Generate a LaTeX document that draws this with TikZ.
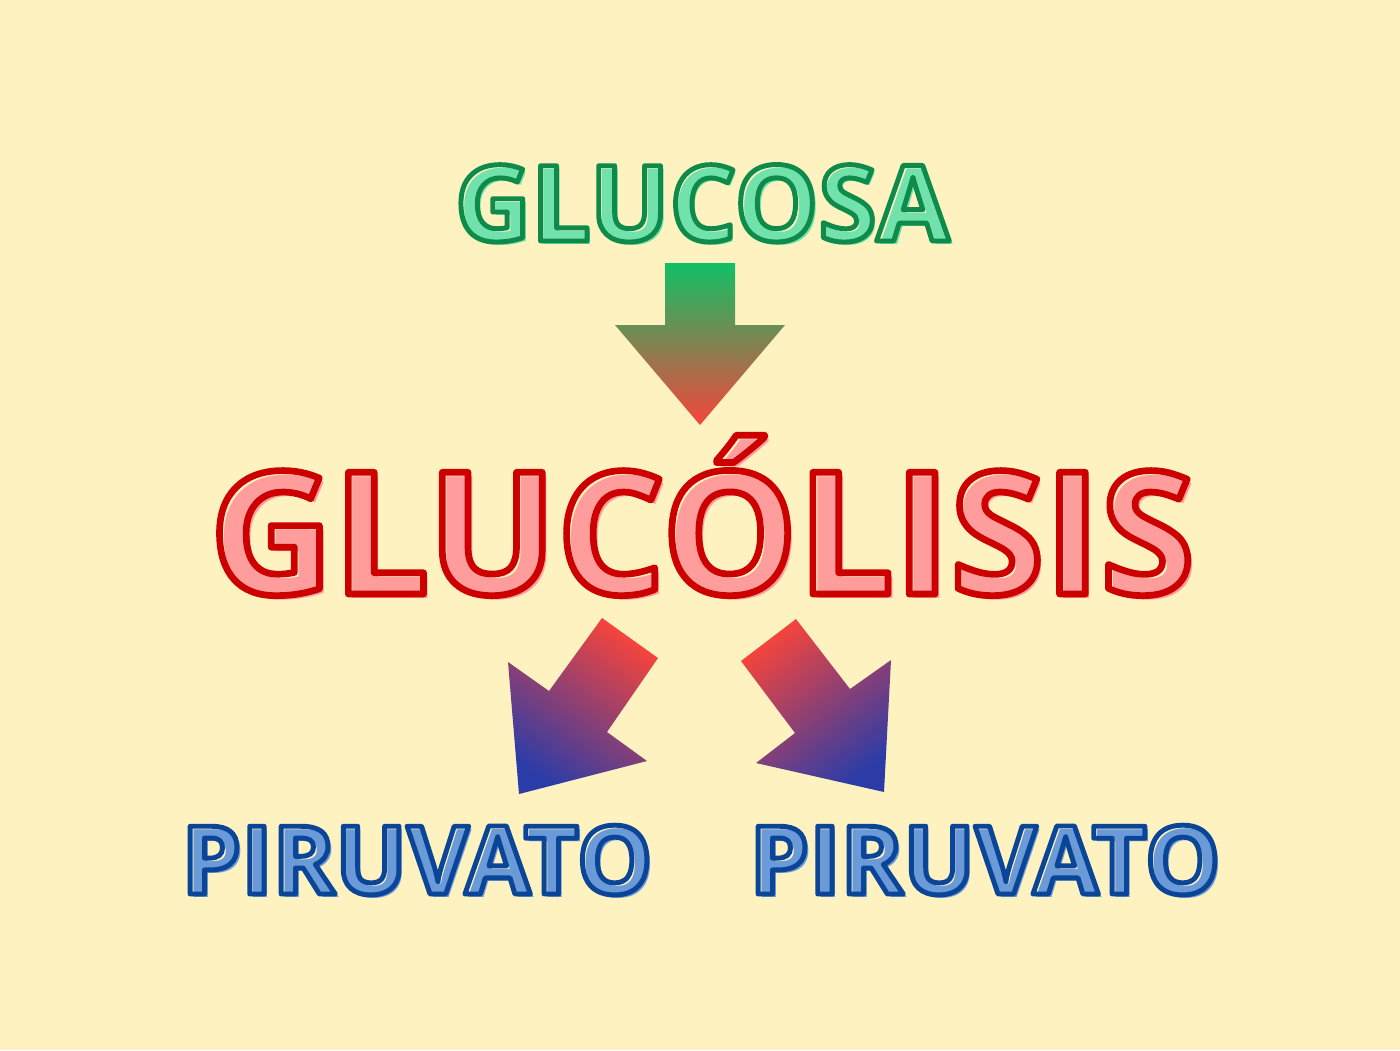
\documentclass[tikz,border=0pt]{standalone}
\usepackage{fontspec}
\setmainfont{Open Sans}
\usepackage{tikz}
\definecolor{paper}{HTML}{FFF2C1}
\definecolor{GluLine}{HTML}{0E8A4A}
\definecolor{GluFill}{HTML}{72E2AC}
\definecolor{LysLine}{HTML}{CC0000}
\definecolor{LysFill}{HTML}{FF9C9C}
\definecolor{PyrLine}{HTML}{0B4597}
\definecolor{PyrFill}{HTML}{6A9AD8}
\definecolor{ArrGreen}{HTML}{10C064}
\definecolor{ArrRed}{HTML}{F5443C}
\definecolor{ArrBlue}{HTML}{2B3CA8}
% stroke-only glyphs (text render mode 1)
\newcommand{\hollow}[2]{\special{pdf:literal direct 1 Tr #1 w 1 j}#2\special{pdf:literal direct 0 Tr}}
% fill shifted right/down, outline on top
\newcommand{\twotone}[5]{\rlap{\hspace{#4}\raisebox{-#4}{\color{#1}#5}}{\color{#2}\hollow{#3}{#5}}}
\tikzset{
  word/.style={inner sep=0pt, anchor=base},
  small/.style={font=\fontsize{60}{66}\selectfont\bfseries},
  big/.style={font=\fontsize{97}{104}\selectfont\bfseries},
  tiny/.style={font=\fontsize{54}{60}\selectfont\bfseries},
  block/.style={draw=none}
}

\begin{document}
\begin{tikzpicture}[x=0.2mm, y=-0.2mm]
  \useasboundingbox[fill=paper] (0,0) rectangle (1400,1050);
  % words, placed by base line
  \node[word, small] (glucose) at (702,241)
    {\twotone{GluFill}{GluLine}{2.8}{0.7mm}{GLUCOSA}};
  \node[word, big] (glycolysis) at (702,594)
    {\twotone{LysFill}{LysLine}{3.8}{0.9mm}{GLUCÓLISIS}};
  \node[word, tiny] (pyrA) at (417,894)
    {\twotone{PyrFill}{PyrLine}{2.8}{0.7mm}{PIRUVATO}};
  \node[word, tiny] (pyrB) at (985,894)
    {\twotone{PyrFill}{PyrLine}{2.8}{0.7mm}{PIRUVATO}};
  % block arrows
  \shade[block, top color=ArrGreen, bottom color=ArrRed]
    (665,263) -- (735,263) -- (735,325) -- (785,325) -- (700,425)
    -- (615,325) -- (665,325) -- cycle;
  \shade[block, top color=ArrRed, bottom color=ArrBlue, shading angle=-35]
    (602,618) -- (658,658) -- (607,732) -- (647,761) -- (519,794)
    -- (508,662) -- (549,691) -- cycle;
  \shade[block, top color=ArrRed, bottom color=ArrBlue, shading angle=37]
    (796,619) -- (741,661) -- (795,733) -- (756,763) -- (884,792)
    -- (891,660) -- (850,689) -- cycle;
\end{tikzpicture}
\end{document}
